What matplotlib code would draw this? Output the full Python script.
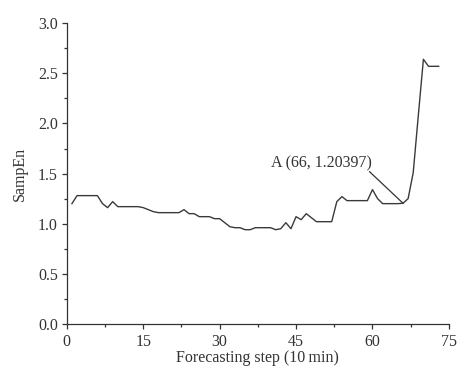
import matplotlib
matplotlib.use('Agg')
import matplotlib.pyplot as plt
from matplotlib.ticker import MultipleLocator

plt.rcParams['font.family'] = ['Liberation Serif', 'DejaVu Serif']
plt.rcParams['font.size'] = 11.5

steps = list(range(1, 74))
sampen = [1.20, 1.28, 1.28, 1.28, 1.28, 1.28, 1.20, 1.16, 1.22, 1.17,
          1.17, 1.17, 1.17, 1.17, 1.16, 1.14, 1.12, 1.11, 1.11, 1.11,
          1.11, 1.11, 1.14, 1.10, 1.10, 1.07, 1.07, 1.07, 1.05, 1.05,
          1.01, 0.97, 0.96, 0.96, 0.94, 0.94, 0.96, 0.96, 0.96, 0.96,
          0.94, 0.95, 1.01, 0.95, 1.07, 1.04, 1.10, 1.06, 1.02, 1.02,
          1.02, 1.02, 1.22, 1.27, 1.23, 1.23, 1.23, 1.23, 1.23, 1.34,
          1.25, 1.20, 1.20, 1.20, 1.20, 1.20397, 1.25, 1.51, 2.08, 2.64,
          2.57, 2.57, 2.57]
point_a = (66, 1.20397)
label_pos = (50.0, 1.60)     # centre of the "A (...)" text
leader_start = (59.4, 1.52)  # where the leader line leaves the text

fig = plt.figure(figsize=(4.74, 3.87), dpi=100)
ax = fig.add_axes([0.141, 0.163, 0.806, 0.777])

ax.plot(steps, sampen, color='#3a3a3a', lw=1.0)

ax.text(*label_pos, 'A (66, 1.20397)', ha='center', va='center',
        color='#333333', fontsize=11.5)
ax.annotate('', xy=point_a, xytext=leader_start,
            arrowprops=dict(arrowstyle='-', color='#333333', lw=0.9,
                            shrinkA=0, shrinkB=0))

ax.set_xlim(0, 75)
ax.set_ylim(0, 3.0)
ax.xaxis.set_major_locator(MultipleLocator(15))
ax.xaxis.set_minor_locator(MultipleLocator(7.5))
ax.yaxis.set_major_locator(MultipleLocator(0.5))
ax.yaxis.set_minor_locator(MultipleLocator(0.25))
ax.yaxis.set_major_formatter(plt.FormatStrFormatter('%.1f'))

for s in ['top', 'right']:
    ax.spines[s].set_visible(False)
for s in ['left', 'bottom']:
    ax.spines[s].set_color('#333333')
    ax.spines[s].set_linewidth(0.9)
ax.tick_params(which='major', direction='out', length=3.5, width=0.9,
               colors='#333333', labelsize=11.5)
ax.tick_params(which='minor', direction='out', length=2.2, width=0.9,
               colors='#333333')
ax.tick_params(axis='x', pad=3.5)
ax.tick_params(axis='y', pad=3)

ax.set_xlabel('Forecasting step (10\u2009min)', fontsize=11.5, color='#333333', labelpad=0)
ax.set_ylabel('SampEn', fontsize=11.5, color='#333333', labelpad=7)

fig.savefig('out.png', dpi=100)
